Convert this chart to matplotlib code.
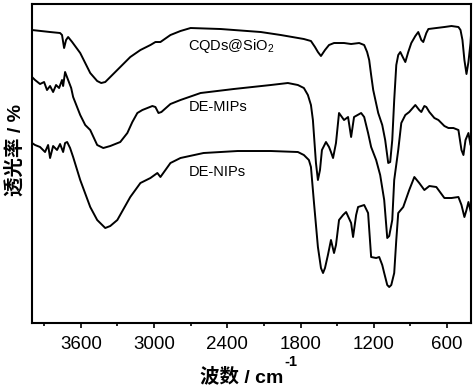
import matplotlib
matplotlib.use("Agg")
import matplotlib.pyplot as plt
from matplotlib.ticker import MultipleLocator

plt.rcParams['font.family'] = ['Liberation Sans', 'Noto Sans CJK SC', 'DejaVu Sans']
plt.rcParams['mathtext.fontset'] = 'custom'
plt.rcParams['mathtext.rm'] = 'Liberation Sans'
plt.rcParams['mathtext.bf'] = 'Liberation Sans:bold'
plt.rcParams['mathtext.default'] = 'regular'

# ---- data (wavenumber cm^-1, relative transmittance, arbitrary offsets) ----
cqd_wn = [4000, 3852, 3770, 3754, 3737, 3721, 3704, 3671, 3605, 3523, 3466, 3433, 3400, 3359,
          3277, 3195, 3112, 3030, 2989, 2948, 2866, 2784, 2701, 2455, 2126, 1962, 1773, 1715,
          1682, 1658, 1633, 1600, 1567, 1526, 1444, 1386, 1320, 1279, 1255, 1238, 1222, 1205,
          1164, 1131, 1107, 1082, 1066, 1049, 1033, 1016, 1000, 983, 959, 942, 918, 893, 860,
          836, 811, 795, 770, 753, 688, 622, 564, 507, 490, 474, 458, 441, 425, 408, 400]
cqd_t = [293, 291, 290, 288, 275, 283, 286, 281, 270, 250, 242, 240, 241, 246,
         256, 266, 273, 278, 281, 281, 288, 292, 295, 294, 291, 288, 284, 282,
         276, 271, 267, 273, 278, 280, 280, 279, 280, 278, 271, 263, 248, 233,
         210, 198, 183, 160, 161, 183, 223, 258, 268, 271, 265, 261, 271, 280, 287,
         291, 283, 281, 290, 294, 295, 296, 297, 296, 293, 283, 263, 249, 261, 280, 296]

mip_wn = [4000, 3975, 3934, 3901, 3877, 3852, 3827, 3803, 3778, 3754, 3745, 3729, 3704, 3679,
          3663, 3605, 3564, 3523, 3466, 3416, 3359, 3277, 3219, 3178, 3137, 3096, 3055, 3014,
          2989, 2964, 2940, 2866, 2784, 2619, 2348, 2044, 1904, 1822, 1773, 1740, 1715, 1699,
          1674, 1658, 1641, 1625, 1592, 1567, 1551, 1534, 1510, 1485, 1444, 1411, 1386, 1362,
          1304, 1279, 1247, 1222, 1181, 1148, 1115, 1090, 1074, 1049, 1033, 1000, 975, 942,
          910, 860, 828, 811, 786, 770, 745, 704, 671, 622, 589, 548, 507, 482, 466, 449,
          425, 408, 400]
mip_t = [246, 243, 239, 241, 233, 237, 231, 238, 235, 243, 237, 251, 243, 235,
         226, 208, 198, 193, 178, 175, 177, 181, 190, 201, 210, 213, 215, 217,
         216, 210, 211, 219, 223, 230, 234, 238, 240, 238, 235, 228, 218, 203,
         160, 143, 153, 173, 181, 176, 171, 165, 180, 210, 203, 206, 186, 206,
         210, 206, 190, 176, 163, 148, 123, 85, 87, 103, 143, 173, 200, 208,
         211, 218, 213, 211, 217, 216, 211, 205, 203, 197, 195, 195, 193, 173, 168, 183,
         190, 178, 185]

nip_wn = [4000, 3975, 3934, 3893, 3868, 3852, 3827, 3795, 3770, 3745, 3729, 3712, 3688, 3663,
          3605, 3523, 3466, 3400, 3359, 3301, 3195, 3112, 3030, 2973, 2948, 2907, 2866, 2784,
          2595, 2315, 2044, 1822, 1773, 1732, 1715, 1690, 1658, 1633, 1616, 1600, 1576, 1551,
          1526, 1510, 1485, 1452, 1427, 1386, 1370, 1345, 1329, 1279, 1247, 1222, 1181, 1156,
          1131, 1115, 1090, 1074, 1057, 1033, 1016, 1000, 959, 910, 868, 828, 786, 745, 688,
          622, 564, 507, 482, 458, 441, 425, 400]
nip_t = [180, 178, 176, 171, 178, 165, 177, 173, 179, 171, 180, 181, 175, 166,
         143, 116, 103, 95, 97, 103, 126, 140, 145, 150, 146, 153, 160, 165,
         170, 172, 172, 171, 168, 163, 156, 120, 76, 55, 50, 55, 68, 83,
         70, 78, 103, 108, 111, 100, 86, 108, 116, 118, 110, 66, 65, 66,
         58, 50, 38, 36, 38, 50, 83, 110, 116, 133, 146, 140, 133, 137, 136,
         125, 125, 126, 118, 106, 113, 121, 108]

series_labels = ['CQDs@SiO$_2$', 'DE-MIPs', 'DE-NIPs']
label_wn = [2720, 2720, 2720]
label_t = [277, 216, 151]

x_ticks = [3600, 3000, 2400, 1800, 1200, 600]

W, H = 474, 386
fig = plt.figure(figsize=(W / 100, H / 100), dpi=100)
ax = fig.add_axes([0.0675, 0.1632, 0.9272, 0.8264])

for wn, t in [(cqd_wn, cqd_t), (mip_wn, mip_t), (nip_wn, nip_t)]:
    ax.plot(wn, t, color='black', lw=1.4)

for lab, xw, yt in zip(series_labels, label_wn, label_t):
    ax.text(xw, yt, lab, fontsize=10.5, ha='left', va='center', color='black')

ax.set_xlim(4000, 400)
ax.set_ylim(0, 319)
ax.set_xticks(x_ticks)
ax.xaxis.set_minor_locator(MultipleLocator(300))
ax.set_yticks([])
ax.tick_params(axis='x', which='major', direction='out', length=3.5, width=1.2,
               labelsize=13.5, pad=6)
ax.tick_params(axis='x', which='minor', direction='out', length=2.5, width=1.2)
for s in ax.spines.values():
    s.set_linewidth(1.5)

ax.set_ylabel('透光率 / %', fontsize=14, fontweight='bold')
ax.yaxis.set_label_coords(-0.016, 0.542)

# x label: main part plus separately placed superscript
main = fig.text(200 / W, (H - 382) / H, '波数 / cm', fontsize=14, fontweight='bold',
                ha='left', va='baseline')
fig.canvas.draw()
bb = main.get_window_extent(renderer=fig.canvas.get_renderer())
fig.text(bb.x1 / W + 0.002, (H - 366) / H, '-1', fontsize=10.5, fontweight='bold',
         ha='left', va='baseline')

fig.savefig('out.png', dpi=100)
